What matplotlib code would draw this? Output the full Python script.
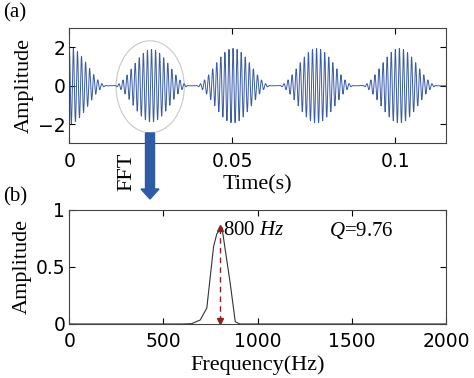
import numpy as np
import matplotlib.pyplot as plt
from matplotlib.patches import Ellipse, FancyArrow

# (a) burst signal parameters
carrier_hz = 800.0
fs = 20000.0
burst_centers = [0.0, 0.0252, 0.0502, 0.0758, 0.1012]
burst_peaks = [2.0, 1.9, 1.95, 1.95, 1.95]
burst_halfwidth = 0.0118
t_end = 0.1155

# (b) spectrum points
freqs = [0, 600, 650, 695, 730, 766, 783, 810, 854, 881, 905, 1000, 2000]
amps = [0, 0, 0.003, 0.035, 0.14, 0.68, 0.79, 0.85, 0.36, 0.02, 0.0, 0.0, 0.0]
peak_freq = 800
peak_amp = 0.87
q_text = '$Q$=9.76'

t = np.arange(0, t_end, 1 / fs)
sig = np.zeros_like(t)
for c, a in zip(burst_centers, burst_peaks):
    d = np.abs(t - c)
    env = np.where(d < burst_halfwidth, 0.5 * (1 + np.cos(np.pi * d / burst_halfwidth)), 0)
    sig += a * env * np.cos(2 * np.pi * carrier_hz * (t - c))

serif = 'Liberation Serif'
sans = 'DejaVu Sans'
plt.rcParams['mathtext.fontset'] = 'custom'
plt.rcParams['mathtext.it'] = 'Liberation Serif:italic'
plt.rcParams['mathtext.rm'] = 'Liberation Serif'

fig = plt.figure(figsize=(4.74, 3.78), dpi=100)
ax1 = fig.add_axes([0.1462, 0.6209, 0.7948, 0.3042])
ax2 = fig.add_axes([0.1462, 0.1429, 0.7948, 0.3016])

ax1.plot(t, sig, color='#3a5ba5', lw=0.7)
ax1.set_xlim(0, t_end)
ax1.set_ylim(-3, 3)
ax1.set_xticks([0, 0.05, 0.1])
ax1.set_xticklabels(['0', '0.05', '0.1'])
ax1.set_yticks([-2, 0, 2])
ax1.set_xlabel('Time(s)', fontfamily=serif, fontsize=16, labelpad=3)
ax1.set_ylabel('Amplitude', fontfamily=serif, fontsize=16, labelpad=3)
ax1.add_patch(Ellipse((0.0248, -0.05), 0.0209, 4.8, fill=False, ec='#c8c8c8', lw=0.8))

ax2.plot(freqs, amps, color='#333333', lw=0.8)
ax2.set_xlim(0, 2000)
ax2.set_ylim(0, 1)
ax2.set_xticks([0, 500, 1000, 1500, 2000])
ax2.set_yticks([0, 0.5, 1])
ax2.set_yticklabels(['0', '0.5', '1'])
ax2.set_xlabel('Frequency(Hz)', fontfamily=serif, fontsize=16, labelpad=3)
ax2.set_ylabel('Amplitude', fontfamily=serif, fontsize=16, labelpad=3)
ax2.plot([peak_freq, peak_freq], [0.03, peak_amp - 0.03], color='#8b2323', lw=1.0, ls=(0, (4, 3)))
ax2.plot([peak_freq], [peak_amp - 0.03], marker='^', color='#8b2323', ms=5)
ax2.plot([peak_freq], [0.03], marker='v', color='#8b2323', ms=5)
ax2.text(peak_freq + 15, 0.82, '800 $Hz$', fontfamily=serif, fontsize=15, va='center')
ax2.text(1380, 0.82, q_text, fontfamily=serif, fontsize=15, va='center')

for ax in (ax1, ax2):
    ax.tick_params(direction='in', length=4, width=0.8, top=True, right=True, labelsize=13.5)
    ax.tick_params(axis='x', pad=6)
    ax.tick_params(axis='y', pad=3)
    for lab in ax.get_xticklabels() + ax.get_yticklabels():
        lab.set_fontfamily(sans)
    for s in ax.spines.values():
        s.set_linewidth(0.8)
        s.set_color('#444444')

# FFT arrow between panels (figure pixel coords -> fraction)
W, H = 474.0, 378.0
fig.patches.append(FancyArrow(150 / W, 1 - 133 / H, 0, -(66 / H - 10 / H), width=9 / W,
                              head_width=18 / W, head_length=10 / H, length_includes_head=False,
                              color='#2e5aa6', transform=fig.transFigure, figure=fig, zorder=10))
fig.text(127 / W, 1 - 172 / H, 'FFT', rotation=90, fontfamily=serif, fontsize=16, ha='center', va='center')
fig.text(3 / W, 1 - 13 / H, '(a)', fontfamily=serif, fontsize=15, ha='left', va='center')
fig.text(3 / W, 1 - 197 / H, '(b)', fontfamily=serif, fontsize=15, ha='left', va='center')

fig.savefig('out.png', dpi=100)
